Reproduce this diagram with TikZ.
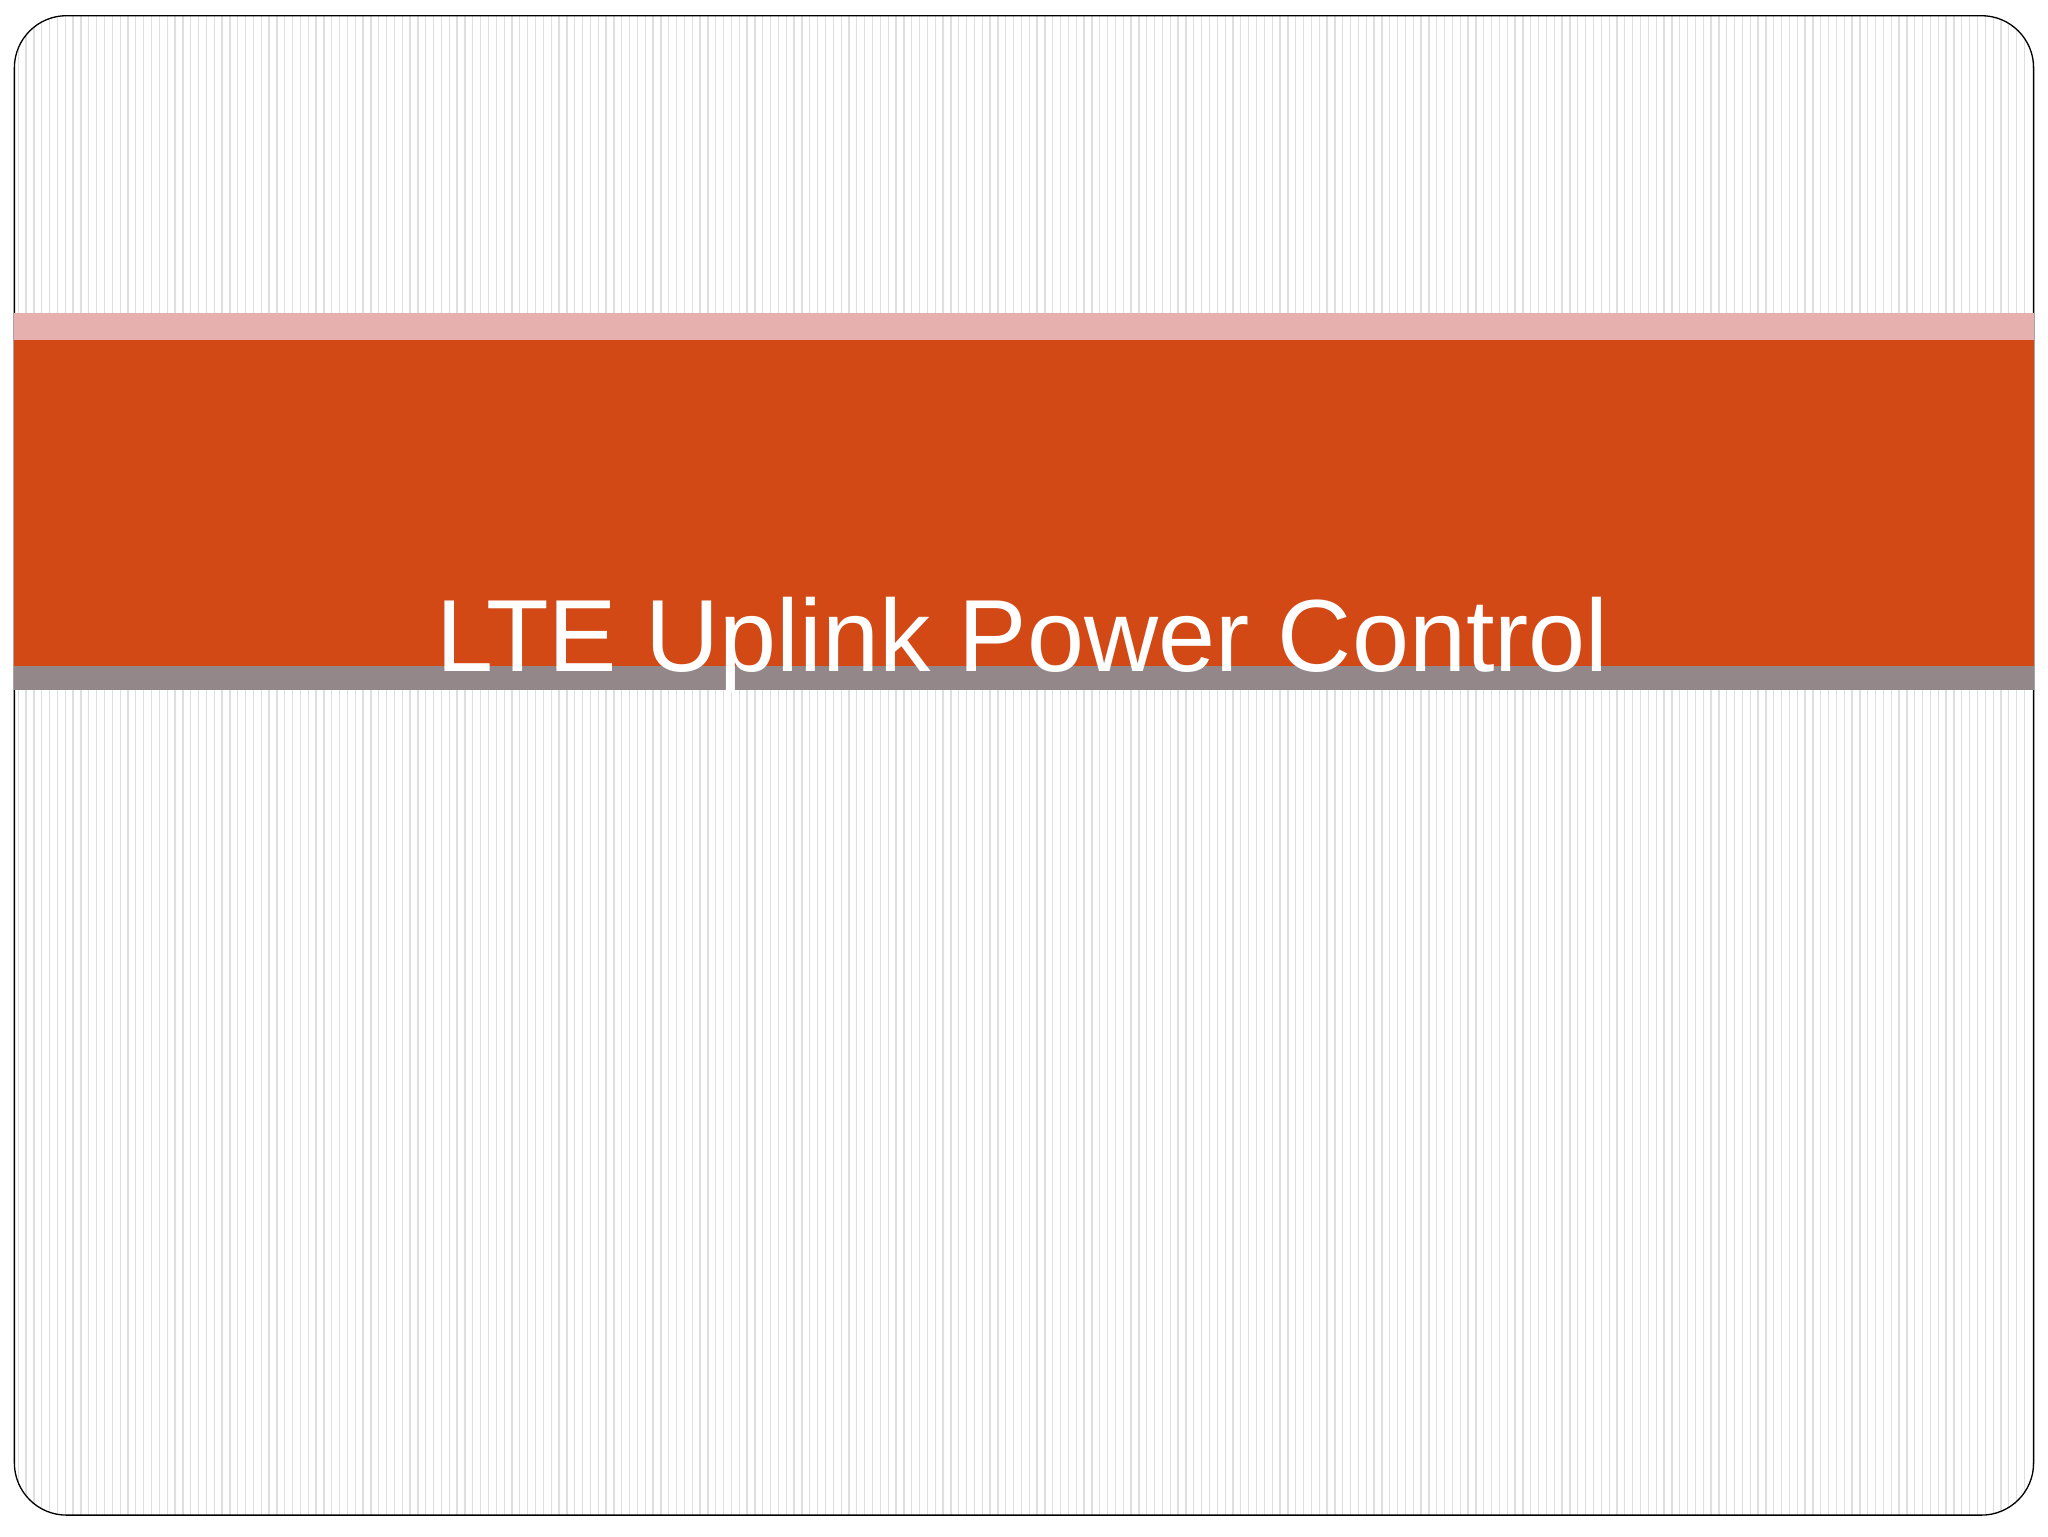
\documentclass[tikz,border=0pt]{standalone}
\usepackage{fontspec}
\setmainfont{Liberation Sans}
\definecolor{band}{HTML}{D34916}
\definecolor{pinkb}{HTML}{E6B0AE}
\definecolor{grayb}{HTML}{938789}
\begin{document}
\begin{tikzpicture}[x=1pt,y=-1pt]
\useasboundingbox (0,0) rectangle (1568,1176);
\fill[white] (0,0) rectangle (1568,1176);
\begin{scope}
\clip[rounded corners=40pt] (11,12) rectangle (1557,1160);
\foreach \i in {14,20,...,1556} {\draw[gray!25,line width=1pt] (\i,12) -- (\i,1160);}
\end{scope}
\draw[black,line width=1pt,rounded corners=40pt] (11,12) rectangle (1557,1160);
\fill[pinkb] (11,240) rectangle (1557,260);
\fill[band] (11,260) rectangle (1557,510);
\fill[grayb] (11,510) rectangle (1557,528);
\node[anchor=base,text=white,font=\fontsize{78.5}{78.5}\selectfont,inner sep=0] (title) at (783,514) {LTE Uplink Power Control};
\end{tikzpicture}
\end{document}
